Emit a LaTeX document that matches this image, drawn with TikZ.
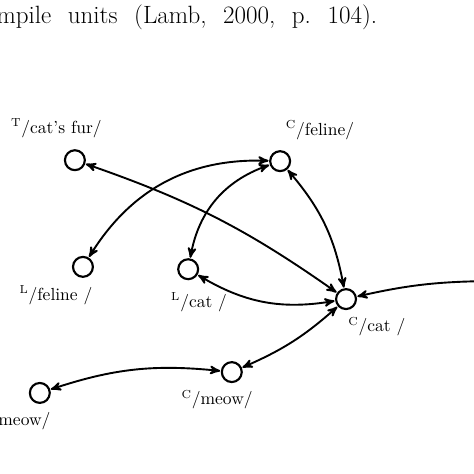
\documentclass[tikz,border=0pt]{standalone}
\usepackage{tikz}
\usetikzlibrary{positioning,arrows}
\tikzset{%
  unit/.style={%
    circle, draw, line width=0.45mm, minimum size=0.42cm, inner sep=0pt, outer sep=1pt
  },
  link/.style={%
    <->, >=stealth', line width=0.4mm
  },
  lab/.style={%
    font=\fontsize{10.5}{12}\selectfont, anchor=base, inner sep=0pt
  }
}

\begin{document}
\begin{tikzpicture}
    \useasboundingbox (0,0) rectangle (10,10);
    \clip (0,0) rectangle (10,10);

    \node[anchor=base west, inner sep=0pt, font=\fontsize{15}{17}\selectfont] (caption) at (-0.08,9.51)
      {\frenchspacing\makebox[8.03cm][s]{mpile units (Lamb, 2000, p.\ 104).}};

    % the units
    \node[unit] (fur) at (1.58,6.62) {};
    \node[unit] (cfel) at (5.91,6.60) {};
    \node[unit] (lfel) at (1.75,4.37) {};
    \node[unit] (lcat) at (3.97,4.32) {};
    \node[unit] (ccat) at (7.30,3.69) {};
    \node[unit] (cmeow) at (4.89,2.15) {};
    \node[unit] (lmeow) at (0.84,1.71) {};
    \coordinate (ext) at (10.3,4.07);

    % their labels
    \node[lab] (furlab) at (1.19,7.19) {$^{\mathrm{T}}$/cat's fur/};
    \node[lab] (cfellab) at (6.75,7.15) {$^{\mathrm{C}}$/feline/};
    \node[lab] (lfellab) at (1.18,3.67) {$^{\mathrm{L}}$/feline /};
    \node[lab] (lcatlab) at (4.20,3.52) {$^{\mathrm{L}}$/cat /};
    \node[lab] (ccatlab) at (7.95,3.00) {$^{\mathrm{C}}$/cat /};
    \node[lab] (cmeowlab) at (4.58,1.46) {$^{\mathrm{C}}$/meow/};
    \node[lab, anchor=base east] (lmeowlab) at (1.07,1.03) {$^{\mathrm{L}}$/meow/};

    \draw[link] (fur) to[bend left=8] (ccat);
    \draw[link] (cfel) to[bend right=30] (lfel);
    \draw[link] (cfel) to[bend right=30] (lcat);
    \draw[link] (cfel) to[bend left=15] (ccat);
    \draw[link] (lcat) to[bend right=20] (ccat);
    \draw[link, <-] (ccat) to[bend left=6] (ext);
    \draw[link] (ccat) to[bend left=9] (cmeow);
    \draw[link] (cmeow) to[bend right=12] (lmeow);
\end{tikzpicture}
\end{document}
